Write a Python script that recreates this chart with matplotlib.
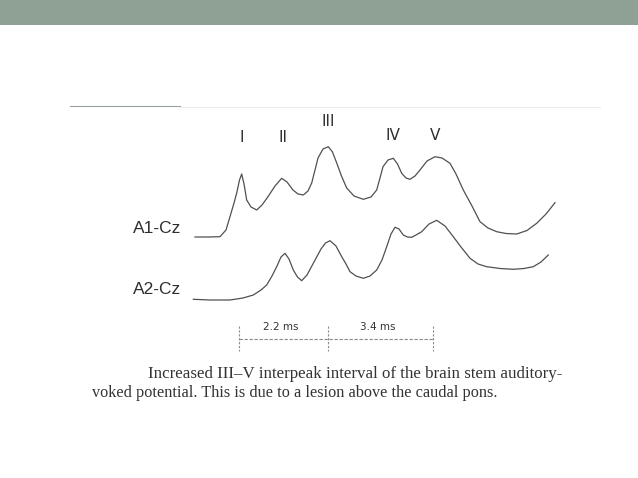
import matplotlib
matplotlib.use('Agg')
import matplotlib.pyplot as plt

# traced waveform points (x = time position, y = deflection, page units)
a1_x = [195, 208, 220, 226, 230, 234, 236.7, 239.5, 241.7, 244, 246.7, 251, 256.7, 262, 268, 275, 281.7,
        287, 293, 298, 303.3, 308, 311.7, 315, 318, 323, 328.3, 332.5, 336.7, 341.5, 346.7, 354, 363.3,
        371, 376.7, 380, 383, 388, 393.3, 397.5, 401.7, 406, 410, 415, 420, 427, 435, 442, 450, 456,
        463.3, 472, 480, 488, 496.7, 506, 516.7, 527, 536.7, 546, 555]
a1_y = [237, 237, 236.7, 230, 216.7, 203, 193, 180, 174, 184, 200, 207, 210, 205, 196.7, 186, 178.3,
        182, 190, 194, 195, 191, 183, 170, 158, 149, 146.7, 152, 163, 176, 188, 196, 199.3,
        197, 190, 178, 166.7, 160, 158.3, 164, 173.3, 178, 179.3, 176, 170, 161, 156.7, 158, 163.3, 174,
        190, 206, 221.7, 228, 231.7, 233.5, 234, 230.5, 223.3, 214, 202.7]

a2_x = [193.3, 210, 230, 243, 253.3, 261, 266.7, 272, 276.7, 281, 285, 289, 293.3, 297.5, 301.7, 307,
        313.3, 321, 325.5, 330, 336, 341.7, 346, 350, 356, 363.3, 370, 376.7, 382, 386.7, 391, 395,
        399, 403.3, 407.5, 411.7, 416, 421.7, 429, 436.7, 445, 453.3, 461, 470, 478, 486.7, 500, 513.3,
        524, 533.3, 541, 548.3]
a2_y = [299.3, 300, 300, 298, 295, 290, 285, 276, 266.7, 257, 253.3, 259, 270, 277, 280.7, 275,
        263.3, 249, 243, 240.7, 246, 256.7, 264, 271.7, 276, 278.3, 276, 270, 260, 246.7, 234, 227.3,
        229, 235, 237, 237.3, 235, 231.7, 224, 220.3, 226, 236.7, 247, 258.3, 264, 266.7, 268.5, 269.3,
        268.5, 266.7, 262, 255]

peak_names = ['I', 'II', 'III', 'IV', 'V']
peak_x = [241.7, 283.3, 328.3, 392.7, 435]
peak_y = [138, 138, 121.7, 135, 135]

trace_names = ['A1-Cz', 'A2-Cz']
trace_label_y = [228, 289]

interval_labels = ['2.2 ms', '3.4 ms']
interval_edges = [239.3, 328.3, 433.3]

caption = ['Increased III\u2013V interpeak interval of the brain stem auditory-',
           'voked potential. This is due to a lesion above the caudal pons.']

ink = '#505050'

fig = plt.figure(figsize=(6.38, 4.78), dpi=100)
fig.patch.set_facecolor('white')
ax = fig.add_axes([0, 0, 1, 1])
ax.set_xlim(0, 638)
ax.set_ylim(478, 0)
ax.axis('off')

# slide header band
ax.axhspan(0, 25, color='#8fa094', lw=0)

# faint edge of the scanned page
ax.plot([70, 180], [106, 106], color='#7d8e8a', lw=0.8, alpha=0.8)
ax.plot([180, 600], [106.5, 106.5], color='#e3e8e8', lw=0.6)

# waveforms
ax.plot(a1_x, a1_y, color=ink, lw=0.9, solid_joinstyle='round')
ax.plot(a2_x, a2_y, color=ink, lw=0.9, solid_joinstyle='round')

for name, x, y in zip(peak_names, peak_x, peak_y):
    ax.text(x, y, name, ha='center', va='center', fontsize=11,
            family='Liberation Sans Narrow', color='#2e2e2e')

for name, y in zip(trace_names, trace_label_y):
    ax.text(133, y, name, ha='left', va='center', fontsize=12.5,
            family='Liberation Sans', color='#2e2e2e')

# interval scale bars
ax.plot([interval_edges[0], interval_edges[-1]], [338.5, 338.5], color='#8a8a8a',
        lw=0.8, ls=(0, (3, 1.5)))
for ex in interval_edges:
    ax.plot([ex, ex], [326, 351], color='#8a8a8a', lw=0.8, ls=(0, (2, 1.5)))
for lab, x0, x1 in zip(interval_labels, interval_edges[:-1], interval_edges[1:]):
    ax.text((x0 + x1) / 2 - 3, 326.5, lab, ha='center', va='center', fontsize=7.5,
            family='DejaVu Sans', color='#333333')

# caption
ax.text(148, 374, caption[0], ha='left', va='center', fontsize=12.2,
        family='Liberation Serif', color='#333333')
ax.text(92, 393, caption[1], ha='left', va='center', fontsize=11.7,
        family='Liberation Serif', color='#333333')

fig.savefig('out.png', dpi=100)
